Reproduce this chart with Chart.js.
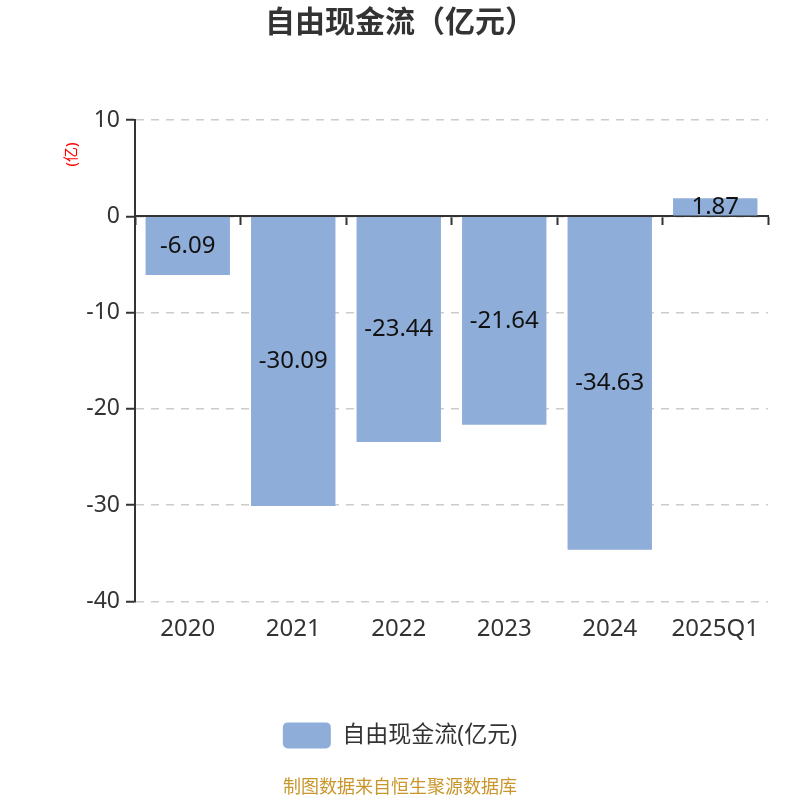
<!DOCTYPE html>
<html>
<head>
<meta charset="utf-8">
<script src="https://cdn.jsdelivr.net/npm/chart.js@4/dist/chart.umd.min.js"></script>
<style>
html,body{margin:0;padding:0;background:#fff;}
#wrap{width:800px;height:800px;}
</style>
</head>
<body>
<div id="wrap"><canvas id="c" width="800" height="800"></canvas></div>
<script>
const categories = ['2020', '2021', '2022', '2023', '2024', '2025Q1'];
const freeCashFlow = [-6.09, -30.09, -23.44, -21.64, -34.63, 1.87];
const seriesName = '自由现金流(亿元)';
const chartTitle = '自由现金流（亿元）';
const unitLabel = '(亿)';
const sourceNote = '制图数据来自恒生聚源数据库';
const yMin = -40, yMax = 10, yStep = 10;

const FONT = "'Noto Sans', 'Noto Sans CJK SC', sans-serif";
const BAR = 'rgb(142,173,217)';

const barLabels = {
  id: 'barLabels',
  afterDatasetsDraw(chart) {
    const ctx = chart.ctx;
    const meta = chart.getDatasetMeta(0);
    ctx.save();
    ctx.font = '24px ' + FONT;
    ctx.fillStyle = '#111';
    ctx.textAlign = 'center';
    ctx.textBaseline = 'middle';
    meta.data.forEach((el, i) => {
      const v = chart.data.datasets[0].data[i];
      const p = el.getProps(['x', 'y', 'base'], true);
      ctx.fillText(v.toFixed(2), p.x, (p.y + p.base) / 2);
    });
    ctx.restore();
  }
};

new Chart(document.getElementById('c'), {
  type: 'bar',
  data: {
    labels: categories,
    datasets: [{
      label: seriesName,
      data: freeCashFlow,
      backgroundColor: BAR,
      borderWidth: 0,
      categoryPercentage: 0.8,
      barPercentage: 1.0,
      xAxisID: 'x',
      yAxisID: 'y'
    }]
  },
  options: {
    responsive: false,
    animation: false,
    devicePixelRatio: 1,
    layout: { padding: { left: 0, right: 0, top: 0, bottom: 0 } },
    plugins: {
      title: {
        display: true,
        text: chartTitle,
        color: '#333',
        font: { family: FONT, size: 30, weight: 'bold' },
        padding: { top: 5, bottom: 79 }
      },
      subtitle: {
        display: true,
        position: 'bottom',
        text: sourceNote,
        color: '#c9962b',
        font: { family: FONT, size: 18 },
        padding: { top: 19, bottom: 1 }
      },
      legend: {
        display: true,
        position: 'bottom',
        labels: {
          boxWidth: 48,
          boxHeight: 26,
          useBorderRadius: true,
          borderRadius: 5,
          padding: 11,
          color: '#333',
          font: { family: FONT, size: 23 }
        }
      },
      tooltip: { enabled: false }
    },
    scales: {
      x: {
        type: 'category',
        position: 'bottom',
        offset: true,
        grid: { display: false, drawTicks: false },
        border: { display: false },
        ticks: { color: '#333', padding: 13, font: { family: FONT, size: 24 } },
        afterFit(s) { s.height = 110; }
      },
      x0: {
        type: 'category',
        axis: 'x',
        position: { y: 0 },
        offset: true,
        grid: { display: true, drawOnChartArea: false, drawTicks: true, tickLength: 8, tickColor: '#333', tickWidth: 2, offset: true },
        border: { display: true, color: '#333', width: 2 },
        ticks: { display: false }
      },
      y: {
        type: 'linear',
        position: 'left',
        min: yMin,
        max: yMax,
        ticks: { stepSize: yStep, color: '#333', padding: 6, font: { family: FONT, size: 23 } },
        grid: { color: '#cccccc', lineWidth: 1.5, tickLength: 9, tickColor: '#333', tickWidth: 2 },
        border: { display: true, color: '#333', width: 2, dash: [8, 7] },
        title: {
          display: true,
          text: unitLabel + '\u3000\u2002',
          color: '#ff0000',
          align: 'end',
          font: { family: FONT, size: 15 },
          padding: { top: 63, bottom: 0 }
        },
        afterFit(s) { s.width = 135; }
      },
      yR: {
        type: 'linear',
        position: 'right',
        display: true,
        grid: { display: false, drawTicks: false },
        border: { display: false },
        ticks: { display: false },
        afterFit(s) { s.width = 32; }
      }
    }
  },
  plugins: [barLabels]
});
</script>
</body>
</html>
